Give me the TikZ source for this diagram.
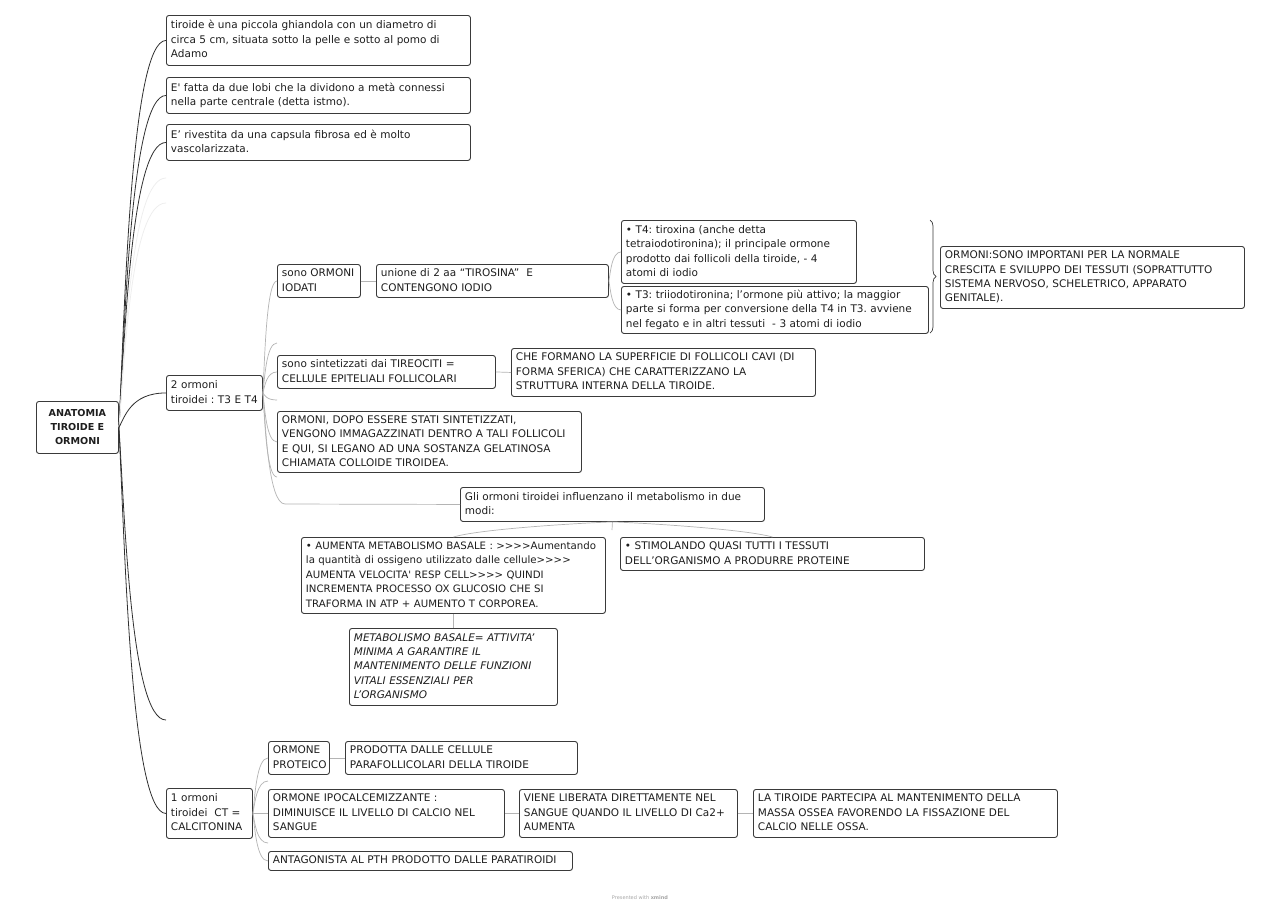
\documentclass[tikz,border=0pt]{standalone}
\usepackage{fontspec}
\setmainfont{DejaVu Sans}[Ligatures=TeXOff]
\usetikzlibrary{decorations.pathreplacing,calc}
\frenchspacing
\definecolor{boxc}{HTML}{3A3A3A}
\definecolor{txt}{HTML}{1E1E1E}
\definecolor{lnk}{HTML}{303030}
\definecolor{sub}{HTML}{B4B4B4}
\definecolor{faint}{HTML}{EDEDED}
\newcommand\branch[3]{\draw[#3] let \p1=(#1), \p2=(#2) in (\p1) .. controls ({\x1+0.125*(\x2-\x1)},{\y1+0.3*(\y2-\y1)}) and ({\x1+0.25*(\x2-\x1)},\y2) .. (\p2);}
\newcommand\tx[1]{\frenchspacing\begin{tabular}{@{}l@{}}#1\end{tabular}}
\newcommand\tc[1]{\begin{tabular}{@{}c@{}}#1\end{tabular}}
\tikzset{
  bx/.style n args={2}{draw=boxc, text=txt, line width=0.9pt, rounded corners=2.5pt, anchor=north west,
     align=left, inner xsep=4.5pt, inner ysep=1.5pt, text width=#1pt-9pt, minimum height=#2pt,
     font=\fontsize{10.5pt}{14.4pt}\selectfont},
  main/.style={lnk, line width=0.8pt},
  subl/.style={sub, line width=0.7pt},
  faintl/.style={faint, line width=0.7pt},
}
\begin{document}
\begin{tikzpicture}[x=1pt,y=-1pt]
\fill[white] (0,0) rectangle (1280,906);
\useasboundingbox (0,0) rectangle (1280,906);

\node[bx={82}{52}, align=center, font=\fontsize{9.6pt}{14pt}\selectfont\bfseries] (root) at (36,401) {\tc{ANATOMIA\\TIROIDE E\\ORMONI}};

\node[bx={304}{50}] (t1) at (166,15) {\tx{tiroide è una piccola ghiandola con un diametro di\\circa 5 cm, situata sotto la pelle e sotto al pomo di\\Adamo}};
\node[bx={304}{36}] (t2) at (166,77) {\tx{E' fatta da due lobi che la dividono a metà connessi\\nella parte centrale (detta istmo).}};
\node[bx={304}{36}] (t3) at (166,124) {\tx{E’ rivestita da una capsula fibrosa ed è molto\\vascolarizzata.}};
\coordinate (e1) at (166,178);
\coordinate (e2) at (166,203);
\node[bx={96}{35}] (due) at (166,375) {\tx{2 ormoni\\tiroidei : T3 E T4}};
\coordinate (e3) at (166,720);
\node[bx={86}{50}] (uno) at (166,788) {\tx{1 ormoni\\tiroidei\ \ CT =\\CALCITONINA}};

\node[bx={83}{33}] (iod) at (277,264) {\tx{sono ORMONI\\IODATI}};
\node[bx={232}{33}] (uni) at (376,264) {\tx{unione di 2 aa “TIROSINA”\ \ E\\CONTENGONO IODIO}};
\node[bx={235}{63}] (tq) at (621,220) {\tx{• T4: tiroxina (anche detta\\tetraiodotironina); il principale ormone\\prodotto dai follicoli della tiroide, - 4\\atomi di iodio}};
\node[bx={307}{47}] (tt) at (621,286) {\tx{• T3: triiodotironina; l’ormone più attivo; la maggior\\parte si forma per conversione della T4 in T3. avviene\\nel fegato e in altri tessuti\ \ - 3 atomi di iodio}};
\node[bx={304}{62}] (imp) at (940,246) {\tx{ORMONI:SONO IMPORTANI PER LA NORMALE\\CRESCITA E SVILUPPO DEI TESSUTI (SOPRATTUTTO\\SISTEMA NERVOSO, SCHELETRICO, APPARATO\\GENITALE).}};

\coordinate (s1) at (277,343);
\node[bx={218}{33}] (sin) at (277,355) {\tx{sono sintetizzati dai TIREOCITI =\\CELLULE EPITELIALI FOLLICOLARI}};
\node[bx={304}{48}] (che) at (511,348) {\tx{CHE FORMANO LA SUPERFICIE DI FOLLICOLI CAVI (DI\\FORMA SFERICA) CHE CARATTERIZZANO LA\\STRUTTURA INTERNA DELLA TIROIDE.}};
\coordinate (s2) at (277,400);
\node[bx={304}{61}] (dopo) at (277,411) {\tx{ORMONI, DOPO ESSERE STATI SINTETIZZATI,\\VENGONO IMMAGAZZINATI DENTRO A TALI FOLLICOLI\\E QUI, SI LEGANO AD UNA SOSTANZA GELATINOSA\\CHIAMATA COLLOIDE TIROIDEA.}};
\coordinate (s3) at (277,477);
\coordinate (g0) at (285,504);
\node[bx={304}{34}] (gli) at (460,487) {\tx{Gli ormoni tiroidei influenzano il metabolismo in due\\modi:}};
\node[bx={304}{76}, font=\fontsize{10.2pt}{14.4pt}\selectfont] (aum) at (301,537) {\tx{• AUMENTA METABOLISMO BASALE : >>>>Aumentando\\la quantità di ossigeno utilizzato dalle cellule>>>>\\AUMENTA VELOCITA' RESP CELL>>>> QUINDI\\INCREMENTA PROCESSO OX GLUCOSIO CHE SI\\TRAFORMA IN ATP + AUMENTO T CORPOREA.}};
\node[bx={304}{33}] (stim) at (620,537) {\tx{• STIMOLANDO QUASI TUTTI I TESSUTI\\DELL’ORGANISMO A PRODURRE PROTEINE}};
\node[bx={208}{77}, font=\fontsize{10.5pt}{14.4pt}\selectfont\itshape] (met) at (349,628) {\tx{METABOLISMO BASALE= ATTIVITA’\\MINIMA A GARANTIRE IL\\MANTENIMENTO DELLE FUNZIONI\\VITALI ESSENZIALI PER\\L’ORGANISMO}};
\coordinate (hub) at (612,530);

\node[bx={61}{33}] (prot) at (268,741) {\tx{ORMONE\\PROTEICO}};
\node[bx={232}{33}] (prod) at (345,741) {\tx{PRODOTTA DALLE CELLULE\\PARAFOLLICOLARI DELLA TIROIDE}};
\coordinate (u1) at (268,781);
\node[bx={236}{48}] (ipo) at (268,789) {\tx{ORMONE IPOCALCEMIZZANTE :\\DIMINUISCE IL LIVELLO DI CALCIO NEL\\SANGUE}};
\node[bx={218}{48}] (vie) at (519,789) {\tx{VIENE LIBERATA DIRETTAMENTE NEL\\SANGUE QUANDO IL LIVELLO DI Ca2+\\AUMENTA}};
\node[bx={304}{48}] (lat) at (753,789) {\tx{LA TIROIDE PARTECIPA AL MANTENIMENTO DELLA\\MASSA OSSEA FAVORENDO LA FISSAZIONE DEL\\CALCIO NELLE OSSA.}};
\coordinate (u2) at (268,843);
\node[bx={304}{19}] (ant) at (268,851) {\tx{ANTAGONISTA AL PTH PRODOTTO DALLE PARATIROIDI}};

\node[text=black!35, font=\fontsize{5pt}{6pt}\selectfont] (wm) at (640,898) {Presented with \textbf{xmind}};

% main branches
\branch{root.east}{t1.west}{main}
\branch{root.east}{t2.west}{main}
\branch{root.east}{t3.west}{main}
\branch{root.east}{e1}{faintl}
\branch{root.east}{e2}{faintl}
\branch{root.east}{due.west}{main}
\branch{root.east}{e3}{main}
\branch{root.east}{uno.west}{main}

% 2 ormoni branches
\branch{due.east}{iod.west}{subl}
\branch{due.east}{s1}{subl}
\branch{due.east}{sin.west}{subl}
\branch{due.east}{s2}{subl}
\branch{due.east}{dopo.west}{subl}
\branch{due.east}{s3}{subl}
\branch{due.east}{g0}{subl}
\draw[subl] (g0) -- (gli.west);
\draw[subl] (iod.east) -- (uni.west);
\branch{uni.east}{tq.west}{subl}
\branch{uni.east}{tt.west}{subl}
\draw[subl] (sin.east) -- (che.west);
\draw[boxc, line width=0.7pt, decorate, decoration={brace, amplitude=6pt}] (930,220) -- (930,333);

\draw[subl] (gli.south) .. controls (580,523) and (480,529) .. (aum.north);
\draw[subl] (gli.south) .. controls (644,523) and (744,529) .. (stim.north);
\draw[subl] (gli.south) -- (hub);
\draw[subl] (aum.south) -- (met.north);

% 1 ormoni branches
\branch{uno.east}{prot.west}{subl}
\branch{uno.east}{u1}{subl}
\branch{uno.east}{ipo.west}{subl}
\branch{uno.east}{u2}{subl}
\branch{uno.east}{ant.west}{subl}
\draw[subl] (prot.east) -- (prod.west);
\draw[subl] (ipo.east) -- (vie.west);
\draw[subl] (vie.east) -- (lat.west);
\end{tikzpicture}
\end{document}
